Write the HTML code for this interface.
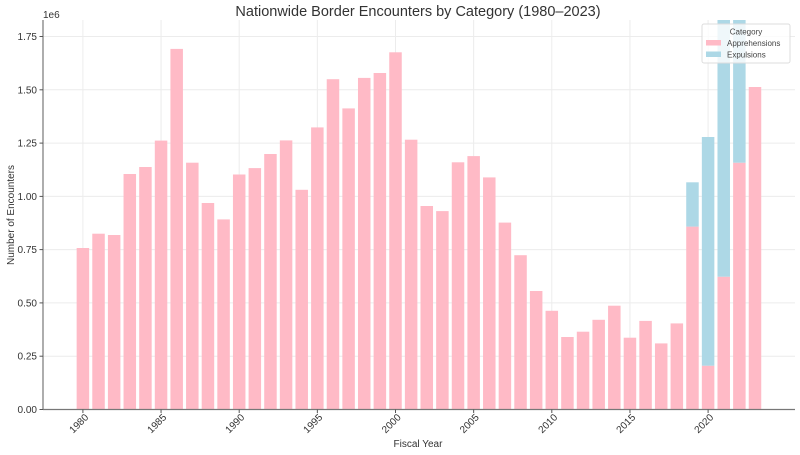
<!DOCTYPE html>
<html><head><meta charset="utf-8"><style>
html,body{margin:0;padding:0;background:#fff;}
svg{display:block;font-family:"Liberation Sans","DejaVu Sans",sans-serif;}
</style></head><body>
<svg width="800" height="455" viewBox="0 0 800 455" xmlns="http://www.w3.org/2000/svg">
<rect width="800" height="455" fill="#fff"/>
<g stroke="#ececec" stroke-width="1">
<line x1="43" x2="795" y1="356.2" y2="356.2"/>
<line x1="43" x2="795" y1="302.9" y2="302.9"/>
<line x1="43" x2="795" y1="249.6" y2="249.6"/>
<line x1="43" x2="795" y1="196.4" y2="196.4"/>
<line x1="43" x2="795" y1="143.1" y2="143.1"/>
<line x1="43" x2="795" y1="89.8" y2="89.8"/>
<line x1="43" x2="795" y1="36.5" y2="36.5"/>
<line x1="82.9" x2="82.9" y1="20" y2="409.5"/>
<line x1="161.05" x2="161.05" y1="20" y2="409.5"/>
<line x1="239.2" x2="239.2" y1="20" y2="409.5"/>
<line x1="317.35" x2="317.35" y1="20" y2="409.5"/>
<line x1="395.5" x2="395.5" y1="20" y2="409.5"/>
<line x1="473.65" x2="473.65" y1="20" y2="409.5"/>
<line x1="551.8" x2="551.8" y1="20" y2="409.5"/>
<line x1="629.95" x2="629.95" y1="20" y2="409.5"/>
<line x1="708.1" x2="708.1" y1="20" y2="409.5"/>
</g>
<g fill="#FFBAC6">
<rect x="76.65" y="248.0" width="12.5" height="161.5"/>
<rect x="92.28" y="233.7" width="12.5" height="175.8"/>
<rect x="107.91" y="235.0" width="12.5" height="174.5"/>
<rect x="123.54" y="174.0" width="12.5" height="235.5"/>
<rect x="139.17" y="167.0" width="12.5" height="242.5"/>
<rect x="154.8" y="140.6" width="12.5" height="268.9"/>
<rect x="170.43" y="48.9" width="12.5" height="360.6"/>
<rect x="186.06" y="162.7" width="12.5" height="246.8"/>
<rect x="201.69" y="203.0" width="12.5" height="206.5"/>
<rect x="217.32" y="219.4" width="12.5" height="190.1"/>
<rect x="232.95" y="174.5" width="12.5" height="235.0"/>
<rect x="248.58" y="168.1" width="12.5" height="241.4"/>
<rect x="264.21" y="154.0" width="12.5" height="255.5"/>
<rect x="279.84" y="140.4" width="12.5" height="269.1"/>
<rect x="295.47" y="189.8" width="12.5" height="219.7"/>
<rect x="311.1" y="127.4" width="12.5" height="282.1"/>
<rect x="326.73" y="79.2" width="12.5" height="330.3"/>
<rect x="342.36" y="108.4" width="12.5" height="301.1"/>
<rect x="357.99" y="77.9" width="12.5" height="331.6"/>
<rect x="373.62" y="73.0" width="12.5" height="336.5"/>
<rect x="389.25" y="52.3" width="12.5" height="357.2"/>
<rect x="404.88" y="139.7" width="12.5" height="269.8"/>
<rect x="420.51" y="206.0" width="12.5" height="203.5"/>
<rect x="436.14" y="211.1" width="12.5" height="198.4"/>
<rect x="451.77" y="162.3" width="12.5" height="247.2"/>
<rect x="467.4" y="156.1" width="12.5" height="253.4"/>
<rect x="483.03" y="177.4" width="12.5" height="232.1"/>
<rect x="498.66" y="222.6" width="12.5" height="186.9"/>
<rect x="514.29" y="255.2" width="12.5" height="154.3"/>
<rect x="529.92" y="291.0" width="12.5" height="118.5"/>
<rect x="545.55" y="310.8" width="12.5" height="98.7"/>
<rect x="561.18" y="337.0" width="12.5" height="72.5"/>
<rect x="576.81" y="331.7" width="12.5" height="77.8"/>
<rect x="592.44" y="319.8" width="12.5" height="89.7"/>
<rect x="608.07" y="305.7" width="12.5" height="103.8"/>
<rect x="623.7" y="337.7" width="12.5" height="71.8"/>
<rect x="639.33" y="320.9" width="12.5" height="88.6"/>
<rect x="654.96" y="343.4" width="12.5" height="66.1"/>
<rect x="670.59" y="323.4" width="12.5" height="86.1"/>
<rect x="686.22" y="226.6" width="12.5" height="182.9"/>
<rect x="701.85" y="365.7" width="12.5" height="43.8"/>
<rect x="717.48" y="276.7" width="12.5" height="132.8"/>
<rect x="733.11" y="162.7" width="12.5" height="246.8"/>
<rect x="748.74" y="87.0" width="12.5" height="322.5"/>
</g>
<g fill="#ADD8E6">
<rect x="686.22" y="182.3" width="12.5" height="44.3"/>
<rect x="701.85" y="137.0" width="12.5" height="228.7"/>
<rect x="717.48" y="20" width="12.5" height="256.7"/>
<rect x="733.11" y="20" width="12.5" height="142.7"/>
</g>
<g stroke="#777" stroke-width="1.2">
<line x1="43" x2="43" y1="20" y2="410"/>
<line x1="43" x2="795" y1="409.5" y2="409.5"/>
</g>
<g stroke="#555" stroke-width="1">
<line x1="39.5" x2="43" y1="409.5" y2="409.5"/><line x1="39.5" x2="43" y1="356.2" y2="356.2"/>
<line x1="39.5" x2="43" y1="302.9" y2="302.9"/><line x1="39.5" x2="43" y1="249.6" y2="249.6"/>
<line x1="39.5" x2="43" y1="196.4" y2="196.4"/><line x1="39.5" x2="43" y1="143.1" y2="143.1"/>
<line x1="39.5" x2="43" y1="89.8" y2="89.8"/><line x1="39.5" x2="43" y1="36.5" y2="36.5"/>
<line x1="82.9" x2="82.9" y1="409.5" y2="413"/><line x1="161.05" x2="161.05" y1="409.5" y2="413"/>
<line x1="239.2" x2="239.2" y1="409.5" y2="413"/><line x1="317.35" x2="317.35" y1="409.5" y2="413"/>
<line x1="395.5" x2="395.5" y1="409.5" y2="413"/><line x1="473.65" x2="473.65" y1="409.5" y2="413"/>
<line x1="551.8" x2="551.8" y1="409.5" y2="413"/><line x1="629.95" x2="629.95" y1="409.5" y2="413"/>
<line x1="708.1" x2="708.1" y1="409.5" y2="413"/>
</g>
<g fill="#333" font-size="10" text-anchor="end">
<text x="37" y="413">0.00</text><text x="37" y="359.7">0.25</text>
<text x="37" y="306.4">0.50</text><text x="37" y="253.1">0.75</text>
<text x="37" y="199.9">1.00</text><text x="37" y="146.6">1.25</text>
<text x="37" y="93.3">1.50</text><text x="37" y="40">1.75</text>
</g>
<g fill="#333" font-size="10" text-anchor="end">
<text transform="translate(89,418) rotate(-45)">1980</text>
<text transform="translate(167,418) rotate(-45)">1985</text>
<text transform="translate(245,418) rotate(-45)">1990</text>
<text transform="translate(323,418) rotate(-45)">1995</text>
<text transform="translate(401.5,418) rotate(-45)">2000</text>
<text transform="translate(479.5,418) rotate(-45)">2005</text>
<text transform="translate(558,418) rotate(-45)">2010</text>
<text transform="translate(636,418) rotate(-45)">2015</text>
<text transform="translate(714,418) rotate(-45)">2020</text>
</g>
<text x="43" y="18" font-size="10" fill="#333">1e6</text>
<text x="418" y="16" font-size="14.5" fill="#333" text-anchor="middle">Nationwide Border Encounters by Category (1980–2023)</text>
<text x="418" y="447" font-size="10" fill="#333" text-anchor="middle">Fiscal Year</text>
<text transform="translate(14,215) rotate(-90)" font-size="10" fill="#333" text-anchor="middle">Number of Encounters</text>
<rect x="702" y="24" width="88" height="39" rx="2" fill="#fff" fill-opacity="0.8" stroke="#ddd"/>
<text x="746" y="34.5" font-size="8" fill="#444" text-anchor="middle">Category</text>
<rect x="706" y="40" width="15" height="5.5" fill="#FFBAC6"/>
<text x="727" y="46" font-size="8" fill="#444">Apprehensions</text>
<rect x="706" y="51.5" width="15" height="5.5" fill="#ADD8E6"/>
<text x="727" y="57.5" font-size="8" fill="#444">Expulsions</text>
</svg>
</body></html>
